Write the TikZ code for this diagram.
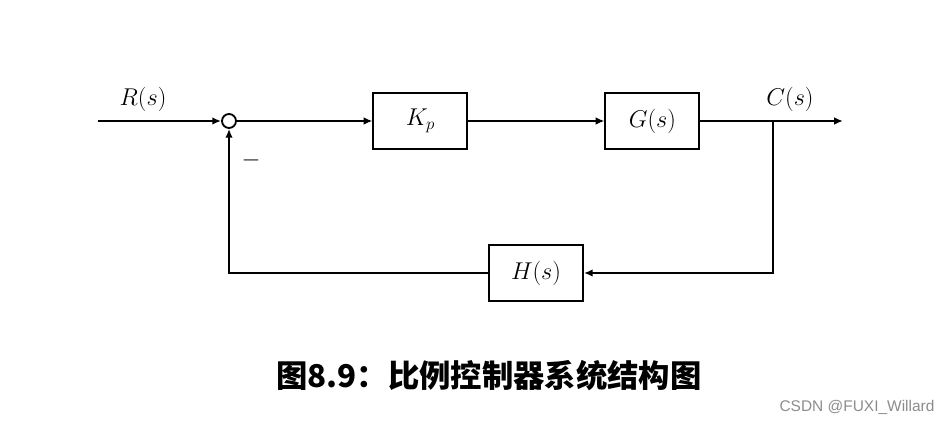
\documentclass[tikz,border=0pt]{standalone}
\usepackage{fontspec}
\newfontfamily\cjkfont{Noto Sans CJK SC}
\newfontfamily\markfont{Liberation Sans}
\usetikzlibrary{arrows.meta}
\tikzset{
	block/.style={draw, line width=1.3pt, minimum width=2.35cm, minimum height=1.4cm, font=\fontsize{16.5}{20}\selectfont},
	sig/.style={line width=1.3pt, -{Latex[length=2.2mm,width=1.9mm]}},
	lbl/.style={font=\fontsize{16.5}{20}\selectfont}
}
\begin{document}
\begin{tikzpicture}
		\useasboundingbox (0,0) rectangle (23.8,-10.625);

		% Define the blocks
		\coordinate (in) at (2.45,-3.025);
		\node[draw, circle, line width=1.3pt, minimum size=0.35cm, inner sep=0pt] (sum) at (5.725,-3.025) {};
		\node[block] (Kp) at (10.51,-3.025) {$K_p$};
		\node[block] (G) at (16.31,-3.025) {$G(s)$};
		\node[block] (H) at (13.4,-6.825) {$H(s)$};
		\coordinate (branch) at (19.325,-3.025);
		\coordinate (out) at (21.075,-3.025);
		\coordinate (fbR) at (19.325,-6.825);
		\coordinate (fbL) at (5.725,-6.825);

		% Define the labels
		\node[lbl] (R) at (3.575,-2.475) {$R(s)$};
		\node[lbl] (C) at (19.75,-2.475) {$C(s)$};
		\node[lbl] (minus) at (6.275,-4.0) {$-$};

		% Define the signals
		\draw[sig] (in) -- (sum.west);
		\draw[sig] (sum.east) -- (Kp.west);
		\draw[sig] (Kp.east) -- (G.west);
		\draw[sig] (G.east) -- (out);
		\draw[sig] (branch) -- (fbR) -- (H.east);
		\draw[sig] (H.west) -- (fbL) -- (sum.south);

		% Caption
		\node[font=\cjkfont\bfseries\fontsize{22.3}{27}\selectfont] (caption) at (12.225,-9.4) {图8.9：比例控制器系统结构图};
		\node[font=\markfont\fontsize{11}{13}\selectfont, text=black!45] (mark) at (21.425,-10.175) {CSDN @FUXI\_Willard};
	\end{tikzpicture}
\end{document}
